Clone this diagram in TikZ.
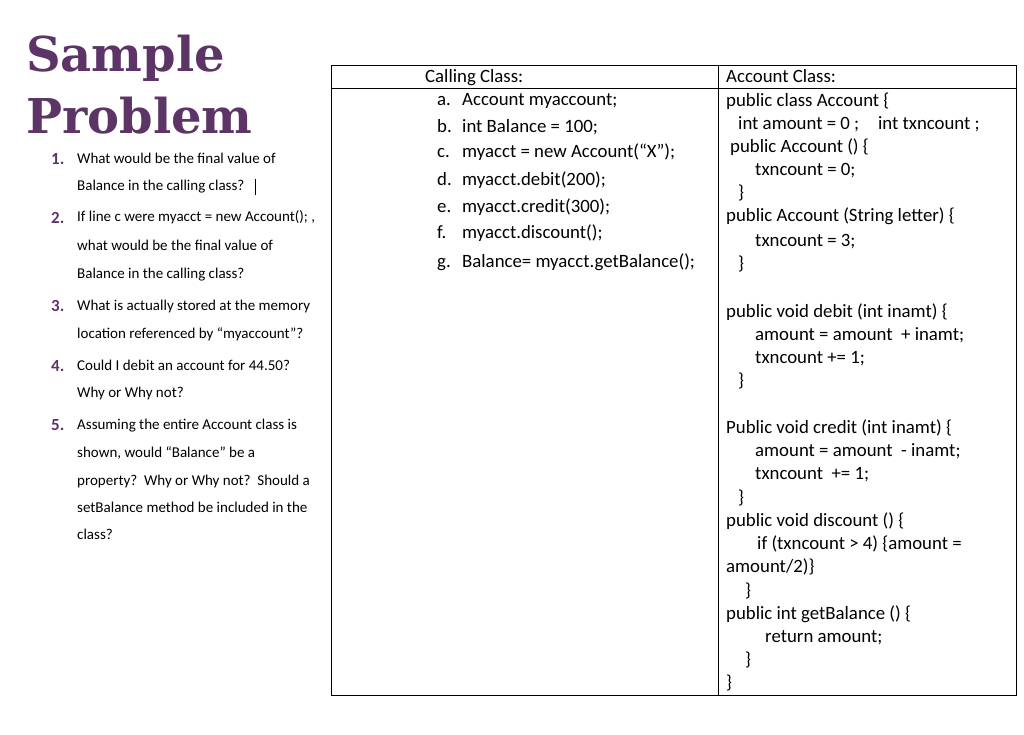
\documentclass[tikz,border=0pt]{standalone}
\usepackage{fontspec}
\setmainfont{Carlito}
\newfontfamily\titlefont{DejaVu Serif}
\definecolor{purp}{HTML}{5C3566}
\tikzset{
 code/.style={anchor=base west,inner sep=0pt,yshift=-6pt,font=\fontsize{18.8}{18.8}\selectfont},
 q/.style={anchor=base west,inner sep=0pt,yshift=-5pt,font=\fontsize{15}{15}\selectfont},
 qn/.style={anchor=base west,inner sep=0pt,yshift=-6pt,font=\fontsize{17}{17}\selectfont\bfseries,text=purp},
 ttl/.style={anchor=base west,inner sep=0pt,yshift=-17pt,font=\fontsize{48}{48}\selectfont\titlefont\bfseries,text=purp},
 frame/.style={draw=black,line width=1pt}
}
\begin{document}
\begin{tikzpicture}[x=1pt,y=-1pt]
\useasboundingbox (0,0) rectangle (1024,735);
\node[ttl] (t1) at (26,55) {Sample};
\node[ttl] (t2) at (26,117) {Problem};
% questions
\node[qn] (n1) at (51,159) {1.};
\node[q] (q1a) at (77,159) {What would be the final value of};
\node[q] (q1b) at (77,186) {Balance in the calling class?};
\draw[line width=1pt] (255,179) -- (255,195);
\node[qn] (n2) at (51,217) {2.};
\node[q] (q2a) at (77,217) {If line c were myacct = new Account(); ,};
\node[q] (q2b) at (77,246) {what would be the final value of};
\node[q] (q2c) at (77,273) {Balance in the calling class?};
\node[qn] (n3) at (51,305) {3.};
\node[q] (q3a) at (77,305) {What is actually stored at the memory};
\node[q] (q3b) at (77,333) {location referenced by “myaccount”?};
\node[qn] (n4) at (51,365) {4.};
\node[q] (q4a) at (77,365) {Could I debit an account for 44.50?};
\node[q] (q4b) at (77,392) {Why or Why not?};
\node[qn] (n5) at (51,424) {5.};
\node[q] (q5a) at (77,424) {Assuming the entire Account class is};
\node[q] (q5b) at (77,452) {shown, would “Balance” be a};
\node[q] (q5c) at (77,480) {property?\ \ Why or Why not?\ \ Should a};
\node[q] (q5d) at (77,507) {setBalance method be included in the};
\node[q] (q5e) at (77,534) {class?};
% table
\draw[frame] (331,66) rectangle (1016,695);
\draw[frame] (331,89) -- (1016,89);
\draw[frame] (718,66) -- (718,695);
\node[code] (h1) at (425,77) {Calling Class:};
\node[code] (h2) at (726,77) {Account Class:};
\foreach \l/\t/\y in {a./Account myaccount;/100, b./int Balance = 100;/127, c./myacct = new Account(“X”);/152, d./myacct.debit(200);/180, e./myacct.credit(300);/207, f./myacct.discount();/233, g./Balance= myacct.getBalance();/261}{
 \node[code] (L\y) at (437,\y) {\l};
 \node[code] (C\y) at (462,\y) {\t};
}
\foreach \x/\t/\y in {
726/public class Account \{/101,
738/int amount = 0 ;\quad int txncount ;/124,
730/public Account () \{/147,
755/txncount = 0;/170,
738/\}/193,
726/public Account (String letter) \{/216,
755/txncount = 3;/240,
738/\}/263,
726/public void debit (int inamt) \{/311,
755/amount = amount\ \ + inamt;/334,
755/txncount += 1;/357,
738/\}/380,
726/Public void credit (int inamt) \{/427,
755/amount = amount\ \ - inamt;/450,
755/txncount\ \ += 1;/473,
738/\}/497,
726/public void discount () \{/520,
757/if (txncount > 4) \{amount =/543,
745/\}/590,
726/public int getBalance () \{/613,
765/return amount;/636,
745/\}/659,
726/\}/682}{
 \node[code] (R\y) at (\x,\y) {\t};
}
\node[code] (R566) at (726,566) {amount/2)\}};
\end{tikzpicture}
\end{document}
